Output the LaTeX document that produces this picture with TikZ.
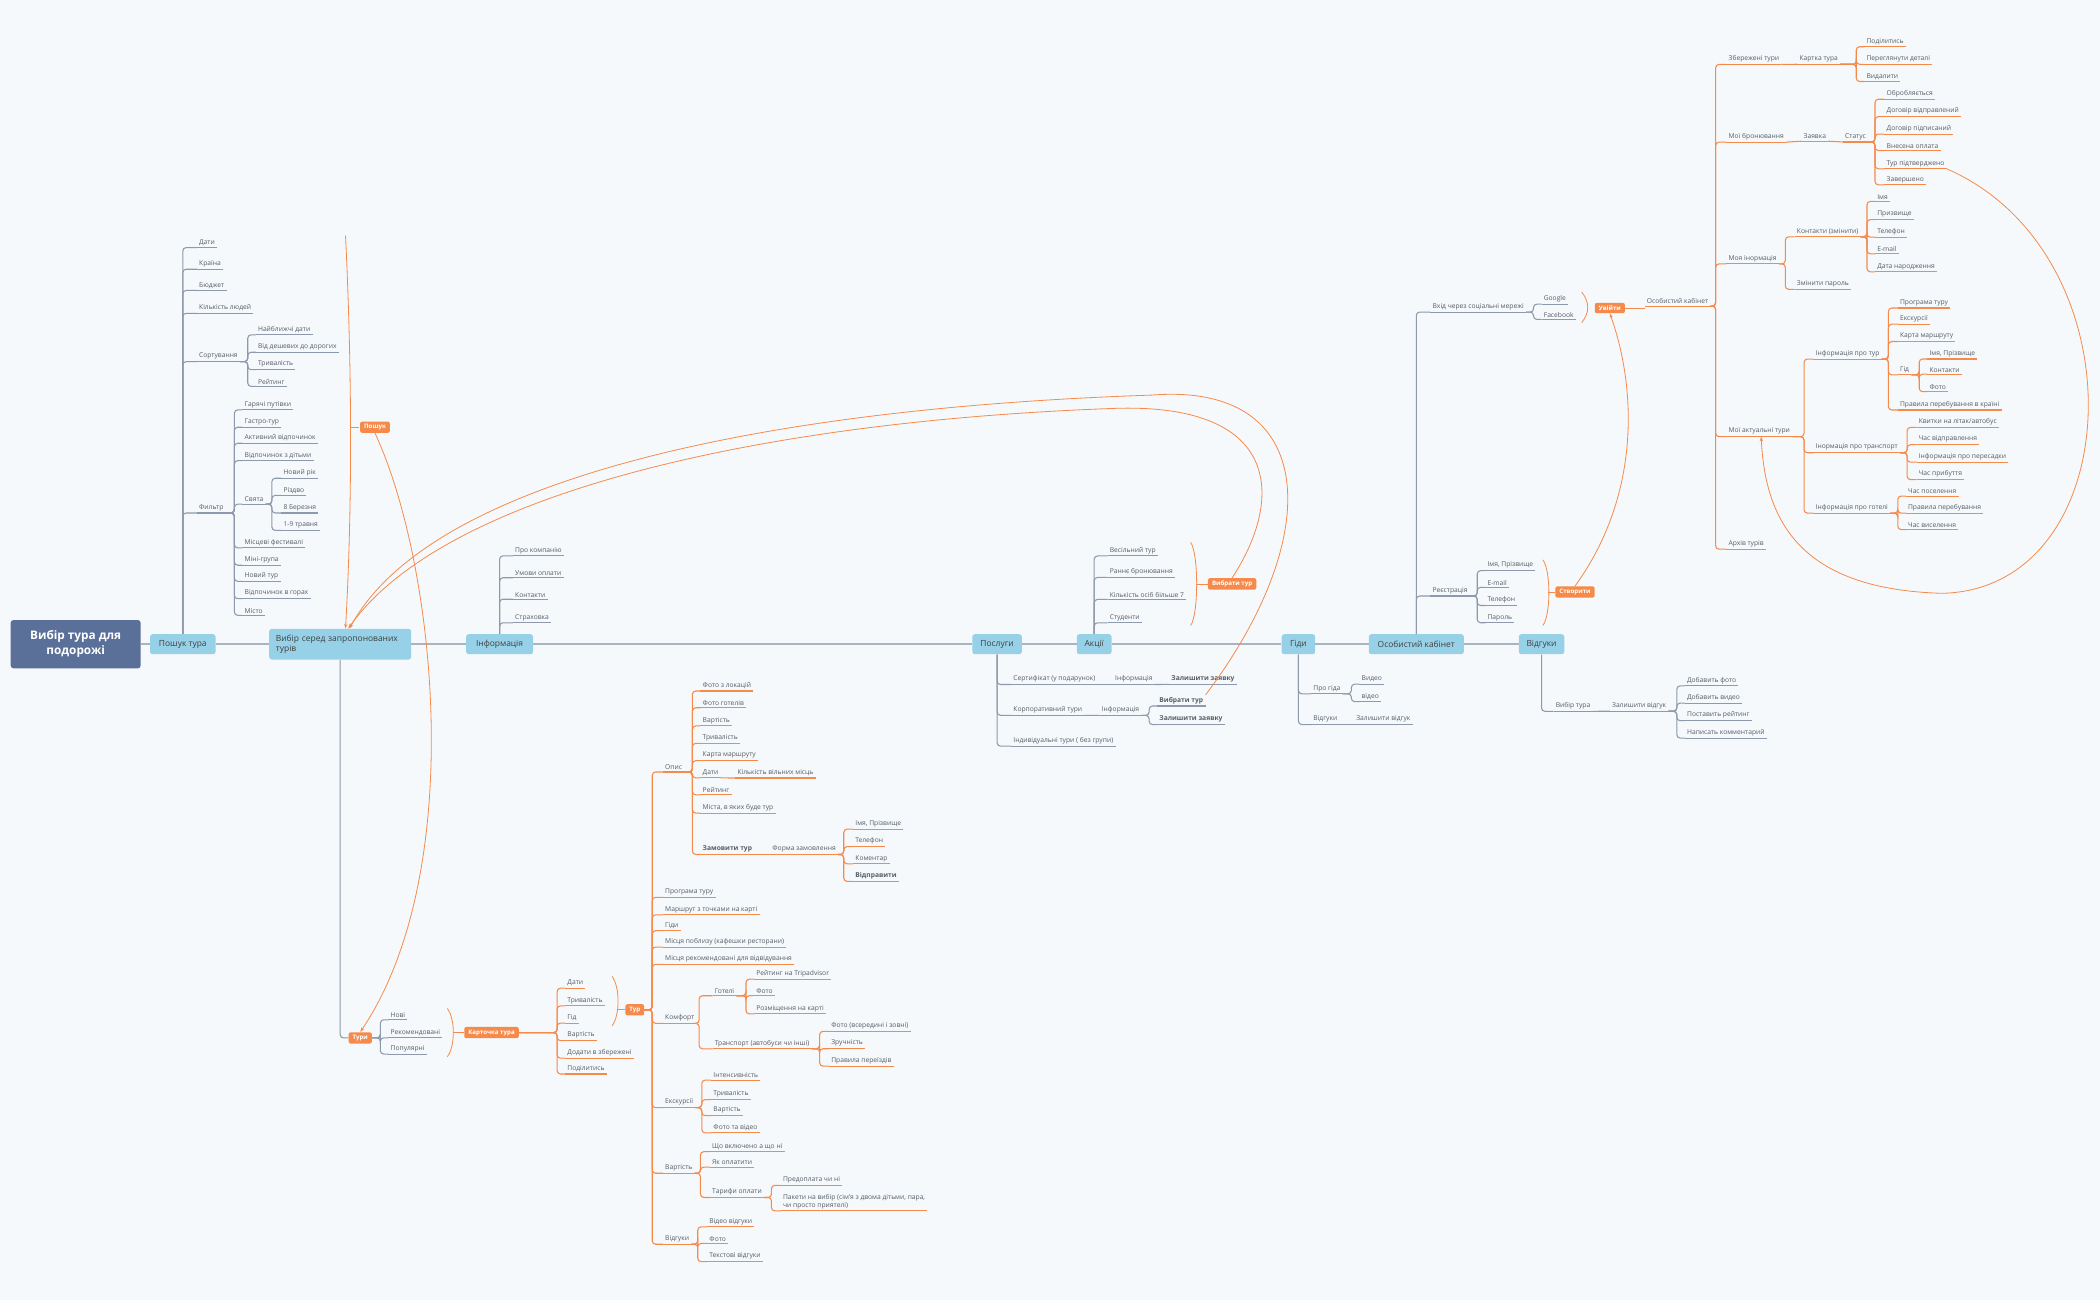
\documentclass[tikz,border=0pt]{standalone}
\usepackage{fontspec}
\setmainfont{Open Sans}
\usetikzlibrary{backgrounds,arrows.meta}
\definecolor{bgc}{HTML}{F5F9FC}
\definecolor{lg}{HTML}{8E99AB}
\definecolor{axis}{HTML}{A9B4C2}
\definecolor{og}{HTML}{F58A4B}
\definecolor{tx}{HTML}{555D66}
\definecolor{boxc}{HTML}{96D1E7}
\definecolor{rootc}{HTML}{5A7099}
\tikzset{
 gline/.style={draw=lg,line width=0.8pt,rounded corners=2.5pt},
 oline/.style={draw=og,line width=0.8pt,rounded corners=2.5pt},
 lab/.style={anchor=west,inner xsep=1.5pt,inner ysep=1.4pt,text=tx,font=\fontsize{5}{6}\selectfont},
 g/.style={lab,append after command={(\tikzlastnode.south west) edge[gline] (\tikzlastnode.south east)}},
 o/.style={lab,append after command={(\tikzlastnode.south west) edge[oline] (\tikzlastnode.south east)}},
 bx/.style={fill=boxc,rounded corners=2pt,text=black!75,font=\fontsize{6.3}{7.5}\selectfont,minimum height=15pt,inner xsep=3pt},
 call/.style={fill=og,rounded corners=1.5pt,text=white,font=\fontsize{4.6}{5}\selectfont\bfseries,inner xsep=3pt,inner ysep=2pt},
 rel/.style={draw=og,line width=0.6pt,-{Stealth[length=3.5pt,width=2.5pt]}},
 brk/.style={draw=og,line width=0.6pt},
}
\newcommand\Lg[4]{\node[g] (#1) at (#2,#3) {#4};}
\newcommand\Lo[4]{\node[o] (#1) at (#2,#3) {#4};}
\newcommand\Bg[3]{\path[gline] (#1.south east) -| (#3,0 |- #2.south) -- (#2.south west);}
\newcommand\Bo[3]{\path[oline] (#1.south east) -| (#3,0 |- #2.south) -- (#2.south west);}
\newcommand\Cg[2]{\path[gline] (#1.south east) -- (#2.south west);}
\newcommand\Co[2]{\path[oline] (#1.south east) -- (#2.south west);}
\newcommand\Vg[3]{\path[gline] (#1.#2) |- (#3.south west);}
\newcommand\Brk[3]{\path[brk] (#1,#2) .. controls (#1+6,#2+8) and (#1+6,#3-8) .. (#1,#3);}
\begin{document}
\begin{tikzpicture}[x=1pt,y=-1pt]
\begin{scope}[on background layer]
\fill[bgc] (0,0) rectangle (1568,971);
\end{scope}
\useasboundingbox (0,0) rectangle (1568,971);
% main boxes
\node[fill=rootc,rounded corners=2pt,text=white,font=\fontsize{8.8}{11}\selectfont\bfseries,minimum width=97pt,minimum height=36pt,align=center] (root) at (56.5,481) {Вибір тура для\\подорожі};
\node[bx,minimum width=49pt] (poshuk) at (136.5,481) {Пошук тура};
\node[bx,minimum width=106pt,minimum height=23pt,text width=96pt,align=left] (vybir) at (254,481) {Вибір серед запропонованих турів};
\node[bx,minimum width=50pt] (info) at (373,481) {Інформація};
\node[bx,minimum width=37pt] (posl) at (744.5,481) {Послуги};
\node[bx,minimum width=26pt] (akcii) at (817,481) {Акції};
\node[bx,minimum width=25pt] (gidy) at (969.5,481) {Гіди};
\node[bx,minimum width=71pt] (kab) at (1057.5,481) {Особистий кабінет};
\node[bx,minimum width=34pt] (vidg) at (1151,481) {Відгуки};
\begin{scope}[on background layer]
\draw[axis,line width=1.6pt] (root.east) -- (poshuk.west) (poshuk.east) -- (vybir.west) (vybir.east) -- (info.west) (info.east) -- (posl.west) (posl.east) -- (akcii.west) (akcii.east) -- (gidy.west) (gidy.east) -- (kab.west) (kab.east) -- (vidg.west);
\end{scope}
% Пошук тура
\Lg{p1}{147}{181}{Дати}\Lg{p2}{147}{197}{Країна}\Lg{p3}{147}{213}{Бюджет}\Lg{p4}{147}{230}{Кількість людей}\Lg{p5}{147}{266}{Сортування}\Lg{p6}{147}{379}{Фильтр}
\foreach \c in {p1,p2,p3,p4,p5,p6}{\Vg{poshuk}{north}{\c}}
\Lg{s1}{191}{246}{Найближчі дати}\Lg{s2}{191}{259}{Від дешевих до дорогих}\Lg{s3}{191}{272}{Тривалість}\Lg{s4}{191}{285}{Рейтинг}
\foreach \c in {s1,s2,s3,s4}{\Bg{p5}{\c}{185}}
\Lg{f1}{181}{302}{Гарячі путівки}\Lg{f2}{181}{315}{Гастро-тур}\Lg{f3}{181}{327}{Активний відпочинок}\Lg{f4}{181}{340}{Відпочинок з дітьми}\Lg{f5}{181}{373}{Свята}\Lg{f6}{181}{405}{Місцеві фестивалі}\Lg{f7}{181}{418}{Міні-група}\Lg{f8}{181}{430}{Новий тур}\Lg{f9}{181}{443}{Відпочинок в горах}\Lg{f10}{181}{456}{Місто}
\foreach \c in {f1,f2,f3,f4,f5,f6,f7,f8,f9,f10}{\Bg{p6}{\c}{175}}
\Lg{h1}{210}{353}{Новий рік}\Lg{h2}{210}{366}{Різдво}\Lg{h3}{210}{379}{8 Березня}\Lg{h4}{210}{392}{1-9 травня}
\foreach \c in {h1,h2,h3,h4}{\Bg{f5}{\c}{203}}
% Інформація
\Lg{i1}{383}{411}{Про компанію}\Lg{i2}{383}{428}{Умови оплати}\Lg{i3}{383}{444}{Контакти}\Lg{i4}{383}{461}{Страховка}
\foreach \c in {i1,i2,i3,i4}{\Vg{info}{north}{\c}}
% Акції
\Lg{a1}{827}{411}{Весільний тур}\Lg{a2}{827}{427}{Раннє бронювання}\Lg{a3}{827}{444}{Кількість осіб більше 7}\Lg{a4}{827}{461}{Студенти}
\foreach \c in {a1,a2,a3,a4}{\Vg{akcii}{north}{\c}}
\Brk{889}{405}{467}
\node[call] (vt1) at (920,436) {Вибрати тур};
\draw[brk] (893,436) -- (vt1.west);
% Послуги
\Lg{u1}{755}{507}{Сертифікат (у подарунок)}\Lg{u2}{755}{530}{Корпоративний тури}\Lg{u3}{755}{553}{Індивідуальні тури ( без групи)}
\foreach \c in {u1,u2,u3}{\Vg{posl}{south}{\c}}
\Lg{u1a}{831}{507}{Інформація}\Cg{u1}{u1a}
\node[g,font=\fontsize{5}{6}\selectfont\bfseries] (u1b) at (873,507) {Залишити заявку};\Cg{u1a}{u1b}
\Lg{u2a}{821}{530}{Інформація}\Cg{u2}{u2a}
\node[g,font=\fontsize{5}{6}\selectfont\bfseries] (u2b) at (864,523) {Вибрати тур};
\node[g,font=\fontsize{5}{6}\selectfont\bfseries] (u2c) at (864,537) {Залишити заявку};
\Bg{u2a}{u2b}{858}\Bg{u2a}{u2c}{858}
% Гіди
\Lg{g1}{979}{514}{Про гіда}\Lg{g2}{979}{537}{Відгуки}
\foreach \c in {g1,g2}{\Vg{gidy}{south}{\c}}
\Lg{g1a}{1015}{507}{Видео}\Lg{g1b}{1015}{520}{відео}
\Bg{g1}{g1a}{1009}\Bg{g1}{g1b}{1009}
\Lg{g2a}{1011}{537}{Залишити відгук}\Cg{g2}{g2a}
% Відгуки
\Lg{v1}{1160}{527}{Вибір тура}\Vg{vidg}{south}{v1}
\Lg{v2}{1202}{527}{Залишити відгук}\Cg{v1}{v2}
\Lg{v3}{1258}{508}{Добавить фото}\Lg{v4}{1258}{521}{Добавить видео}\Lg{v5}{1258}{534}{Поставить рейтинг}\Lg{v6}{1258}{547}{Написать комментарий}
\foreach \c in {v3,v4,v5,v6}{\Bg{v2}{\c}{1252}}
% Особистий кабінет
\Lg{k1}{1068}{229}{Вхід через соціальні мережі}\Lg{k2}{1068}{441}{Реєстрація}
\Vg{kab}{north}{k1}\Vg{kab}{north}{k2}
\Lg{k1a}{1151}{223}{Google}\Lg{k1b}{1151}{235}{Facebook}
\Bg{k1}{k1a}{1145}\Bg{k1}{k1b}{1145}
\Brk{1181}{218}{241}
\node[call] (uvi) at (1202,230) {Увійти};
\Lg{r1}{1109}{422}{Імя, Прізвище}\Lg{r2}{1109}{435}{E-mail}\Lg{r3}{1109}{448}{Телефон}\Lg{r4}{1109}{461}{Пароль}
\foreach \c in {r1,r2,r3,r4}{\Bg{k2}{\c}{1103}}
\Brk{1152}{418}{467}
\node[call] (stv) at (1176,442) {Створити};
\draw[brk] (1156,442) -- (stv.west);
% Особистий кабінет (orange)
\Lo{ok}{1228}{225}{Особистий кабінет}
\draw[oline] (uvi.east) -- (ok.south west |- uvi.east) ;
\Lo{o1}{1289}{44}{Збережені тури}\Lo{o2}{1289}{102}{Мої бронювання}\Lo{o3}{1289}{193}{Моя інормація}\Lo{o4}{1289}{322}{Мої актуальні тури}\Lo{o5}{1289}{406}{Архів турів}
\foreach \c in {o1,o2,o3,o4,o5}{\Bo{ok}{\c}{1281}}
\Lo{o1a}{1342}{44}{Картка тура}\Co{o1}{o1a}
\Lo{z1}{1392}{31}{Поділитись}\Lo{z2}{1392}{44}{Переглянути деталі}\Lo{z3}{1392}{57}{Видалити}
\foreach \c in {z1,z2,z3}{\Bo{o1a}{\c}{1386}}
\Lo{o2a}{1345}{102}{Заявка}\Co{o2}{o2a}
\Lo{o2b}{1376}{102}{Статус}\Co{o2a}{o2b}
\Lo{st1}{1407}{70}{Обробляється}\Lo{st2}{1407}{83}{Договір відправлений}\Lo{st3}{1407}{96}{Договір підписаний}\Lo{st4}{1407}{109}{Внесена оплата}\Lo{st5}{1407}{122}{Тур підтверджено}\Lo{st6}{1407}{134}{Завершено}
\foreach \c in {st1,st2,st3,st4,st5,st6}{\Bo{o2b}{\c}{1400}}
\Lo{o3a}{1340}{173}{Контакти (змінити)}\Lo{o3b}{1340}{212}{Змінити пароль}
\Bo{o3}{o3a}{1333}\Bo{o3}{o3b}{1333}
\Lo{c1}{1400}{147}{Імя}\Lo{c2}{1400}{160}{Призвище}\Lo{c3}{1400}{173}{Телефон}\Lo{c4}{1400}{186}{E-mail}\Lo{c5}{1400}{199}{Дата народження}
\foreach \c in {c1,c2,c3,c4,c5}{\Bo{o3a}{\c}{1394}}
\Lo{t1}{1354}{264}{Інформація про тур}\Lo{t2}{1354}{334}{Інормація про транспорт}\Lo{t3}{1354}{379}{Інформація про готелі}
\foreach \c in {t1,t2,t3}{\Bo{o4}{\c}{1347}}
\Lo{ta}{1417}{226}{Програма туру}\Lo{tb}{1417}{238}{Екскурсії}\Lo{tc}{1417}{251}{Карта маршруту}\Lo{td}{1417}{276}{Гід}\Lo{te}{1417}{302}{Правила перебування в країні}
\foreach \c in {ta,tb,tc,td,te}{\Bo{t1}{\c}{1410}}
\Lo{gd1}{1439}{264}{Імя, Прізвище}\Lo{gd2}{1439}{276}{Контакти}\Lo{gd3}{1439}{289}{Фото}
\foreach \c in {gd1,gd2,gd3}{\Bo{td}{\c}{1433}}
\Lo{tr1}{1431}{315}{Квитки на літак/автобус}\Lo{tr2}{1431}{328}{Час відправлення}\Lo{tr3}{1431}{341}{Інформація про пересадки}\Lo{tr4}{1431}{354}{Час прибуття}
\foreach \c in {tr1,tr2,tr3,tr4}{\Bo{t2}{\c}{1424}}
\Lo{ht1}{1423}{367}{Час поселення}\Lo{ht2}{1423}{379}{Правила перебування}\Lo{ht3}{1423}{392}{Час виселення}
\foreach \c in {ht1,ht2,ht3}{\Bo{t3}{\c}{1417}}
% Тури branch
\node[call] (tury) at (269,775) {Тури};
\path[gline] (vybir.south) |- (tury.west);
\Lg{n1}{290}{758}{Нові}\Lg{n2}{290}{771}{Рекомендовані}\Lg{n3}{290}{783}{Популярні}
\foreach \c in {n1,n2,n3}{\path[gline] (tury.east) -| (284,0 |- \c.south) -- (\c.south west);}
\Brk{334}{753}{789}
\node[call] (kt) at (367,771) {Карточка тура};
\draw[brk] (338,771) -- (kt.west);
\Lo{kt1}{422}{734}{Дати}\Lo{kt2}{422}{747}{Тривалість}\Lo{kt3}{422}{760}{Гід}\Lo{kt4}{422}{773}{Вартість}\Lo{kt5}{422}{786}{Додати в збережені}\Lo{kt6}{422}{798}{Поділитись}
\foreach \c in {kt1,kt2,kt3,kt4,kt5,kt6}{\path[oline] (kt.east) -| (416,0 |- \c.south) -- (\c.south west);}
\Brk{457}{729}{766}
\node[call] (tur) at (474,754) {Тур};
\draw[brk] (461,754) -- (tur.west);
\Lo{d1}{495}{573}{Опис}\Lo{d2}{495}{666}{Програма туру}\Lo{d3}{495}{679}{Маршрут з точками на карті}\Lo{d4}{495}{691}{Гіди}\Lo{d5}{495}{703}{Місця поблизу (кафешки ресторани)}\Lo{d6}{495}{716}{Місця рекомендовані для відвідування}\Lo{d7}{495}{760}{Комфорт}\Lo{d8}{495}{823}{Екскурсії}\Lo{d9}{495}{872}{Вартість}\Lo{d10}{495}{925}{Відгуки}
\foreach \c in {d1,d2,d3,d4,d5,d6,d7,d8,d9,d10}{\path[oline] (tur.east) -| (487,0 |- \c.south) -- (\c.south west);}
\Lo{e1}{523}{512}{Фото з локацій}\Lo{e2}{523}{525}{Фото готелів}\Lo{e3}{523}{538}{Вартість}\Lo{e4}{523}{551}{Тривалість}\Lo{e5}{523}{564}{Карта маршруту}\Lo{e6}{523}{577}{Дати}\Lo{e7}{523}{590}{Рейтинг}\Lo{e8}{523}{603}{Міста, в яких буде тур}
\node[o,font=\fontsize{5}{6}\selectfont\bfseries] (e9) at (523,634) {Замовити тур};
\foreach \c in {e1,e2,e3,e4,e5,e6,e7,e8,e9}{\Bo{d1}{\c}{517}}
\Lo{e6a}{549}{577}{Кількість вільних місць}\Co{e6}{e6a}
\Lo{e9a}{575}{634}{Форма замовлення}\Co{e9}{e9a}
\Lo{fz1}{637}{615}{Імя, Прізвище}\Lo{fz2}{637}{628}{Телефон}\Lo{fz3}{637}{641}{Коментар}
\node[o,font=\fontsize{5}{6}\selectfont\bfseries] (fz4) at (637,654) {Відправити};
\foreach \c in {fz1,fz2,fz3,fz4}{\Bo{e9a}{\c}{630}}
\Lo{kf1}{532}{740}{Готелі}\Lo{kf2}{532}{779}{Транспорт (автобуси чи інші)}
\Bo{d7}{kf1}{522}\Bo{d7}{kf2}{522}
\Lo{ho1}{563}{727}{Рейтинг на Tripadvisor}\Lo{ho2}{563}{740}{Фото}\Lo{ho3}{563}{753}{Розміщення на карті}
\foreach \c in {ho1,ho2,ho3}{\Bo{kf1}{\c}{557}}
\Lo{tp1}{619}{766}{Фото (всередині і зовні)}\Lo{tp2}{619}{779}{Зручність}\Lo{tp3}{619}{792}{Правила переїздів}
\foreach \c in {tp1,tp2,tp3}{\Bo{kf2}{\c}{612}}
\Lo{ek1}{531}{803}{Інтенсивність}\Lo{ek2}{531}{817}{Тривалість}\Lo{ek3}{531}{829}{Вартість}\Lo{ek4}{531}{842}{Фото та відео}
\foreach \c in {ek1,ek2,ek3,ek4}{\Bo{d8}{\c}{524}}
\Lo{va1}{530}{856}{Що включено а що ні}\Lo{va2}{530}{868}{Як оплатити}\Lo{va3}{530}{890}{Тарифи оплати}
\foreach \c in {va1,va2,va3}{\Bo{d9}{\c}{523}}
\Lo{tf1}{583}{881}{Предоплата чи ні}
\node[o,align=left] (tf2) at (583,897) {Пакети на вибір (сім'я з двома дітьми, пара,\\чи просто приятелі)};
\Bo{va3}{tf1}{576}\Bo{va3}{tf2}{576}
\Lo{vg1}{528}{912}{Відео відгуки}\Lo{vg2}{528}{925}{Фото}\Lo{vg3}{528}{938}{Текстові відгуки}
\foreach \c in {vg1,vg2,vg3}{\Bo{d10}{\c}{521}}
% relationships
\node[call] (psk) at (280,319) {Пошук};
\coordinate (rtop) at (258,176);
\draw[rel] (rtop) .. controls (263,280) and (263,380) .. ([xshift=4pt]vybir.north);
\draw[brk] (262,319) -- (268,319);
\draw[rel] (psk.south) .. controls (325,420) and (350,650) .. (tury.north);
\draw[rel] (vt1.north) .. controls (960,370) and (955,300) .. (830,305) .. controls (560,315) and (330,370) .. ([xshift=6pt]vybir.north);
\draw[rel] (u2b.north east) .. controls (990,400) and (985,285) .. (860,295) .. controls (560,305) and (320,360) .. ([xshift=7pt]vybir.north);
\draw[rel] (stv.north) .. controls (1225,370) and (1222,290) .. (uvi.south);
\draw[rel] (st5.south east) .. controls (1600,190) and (1590,440) .. (1450,443) .. controls (1345,440) and (1318,390) .. ([xshift=26pt]o4.south west);
\end{tikzpicture}
\end{document}
